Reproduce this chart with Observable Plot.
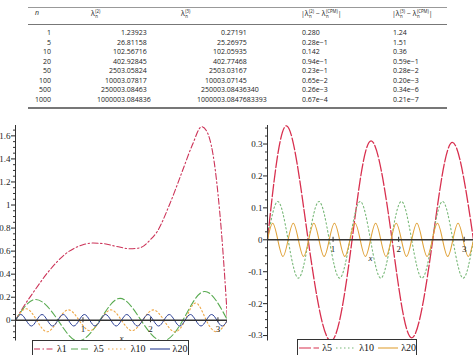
<!DOCTYPE html>
<html><head><meta charset="utf-8">
<script src="https://cdn.jsdelivr.net/npm/d3@7"></script>
<script src="https://cdn.jsdelivr.net/npm/@observablehq/plot@0.6"></script>
<style>
html,body{margin:0;padding:0;background:#fff;}
#root{position:relative;width:474px;height:355px;overflow:hidden;background:#fff;}
.abs{position:absolute;white-space:nowrap;}
.tbl{font-family:"Open Sans","Noto Sans",sans-serif;font-size:7px;line-height:8px;color:#222;}
.ss{display:inline-block;vertical-align:-2.5px;font-size:4.4px;line-height:5px;margin-left:0.4px;text-align:left;}
.ss span{display:block;height:5px;}
.hr{position:absolute;background:#777;}
.legend{position:absolute;border:1px solid #333;background:#fff;display:flex;align-items:center;font-family:"Liberation Serif",serif;font-size:10px;height:17px;color:#111;box-sizing:border-box;}
</style></head><body><div id="root"></div>
<script>
// ---------- table data ----------
const tableN = [1, 5, 10, 20, 50, 100, 500, 1000];
const lambda2 = ["1.23923","26.81158","102.56716","402.92845","2503.05824","10003.07817","250003.08463","1000003.084836"];
const lambda3 = ["0.27191","25.26975","102.05935","402.77468","2503.03167","10003.07145","250003.08436340","1000003.0847683393"];
const err2 = ["0.280","0.28e\u22121","0.142","0.94e\u22121","0.23e\u22121","0.65e\u22122","0.26e\u22123","0.67e\u22124"];
const err3 = ["1.24","1.51","0.36","0.59e\u22121","0.28e\u22122","0.20e\u22123","0.34e\u22126","0.21e\u22127"];

// ---------- chart data ----------
const xDomain = [0, Math.PI];
const xTicks = [1, 2, 3];
const xTickLabels = ["1", "2", "3"];
const xAxisLabel = "x";

const leftYTicks = [0, 0.2, 0.4, 0.6, 0.8, 1, 1.2, 1.4, 1.6];
const leftYLabels = ["0", "0.2", "0.4", "0.6", "0.8", "1", "1.2", "1.4", "1.6"];
const rightYTicks = [-0.3, -0.2, -0.1, 0, 0.1, 0.2, 0.3];
const rightYLabels = ["-0.3", "-0.2", "-0.1", "0", "0.1", "0.2", "0.3"];

const leftNames = ["\u03bb1", "\u03bb5", "\u03bb10", "\u03bb20"];
const rightNames = ["\u03bb5", "\u03bb10", "\u03bb20"];

const x1 = [0, 0.1, 0.25, 0.5, 0.75, 1.0, 1.15, 1.3, 1.5, 1.7, 1.85, 2.0, 2.1, 2.28, 2.47, 2.62, 2.76, 2.85, 2.95, 3.0, 3.05, 3.1, 3.1416];
const left1 = [0, 0.1, 0.23, 0.43, 0.58, 0.655, 0.67, 0.665, 0.64, 0.62, 0.63, 0.7, 0.77, 1.0, 1.29, 1.52, 1.68, 1.62, 1.35, 1.1, 0.78, 0.38, 0];

const x5L = [0, 0.3, 0.63, 0.93, 1.25, 1.55, 1.86, 2.17, 2.48, 2.8, 3.1416];
const left5 = [0, 0.18, 0, -0.18, 0, 0.19, 0, -0.18, 0, 0.25, 0];
const x5R = [0, 0.29, 0.62, 0.97, 1.29, 1.58, 1.9, 2.2, 2.52, 2.82, 3.1416];
const right5 = [0, 0.357, 0, -0.317, 0, 0.31, 0, -0.307, 0, 0.305, 0];

const x10 = [0, 0.157, 0.314, 0.471, 0.628, 0.785, 0.942, 1.1, 1.257, 1.414, 1.571, 1.728, 1.885, 2.042, 2.199, 2.356, 2.513, 2.67, 2.827, 2.985, 3.1416];
const left10 = [0, 0.1, 0, -0.1, 0, 0.09, 0, -0.09, 0, 0.09, 0, -0.09, 0, 0.09, 0, -0.1, 0, 0.15, 0, -0.1, 0];
const right10 = [0, 0.12, 0, -0.12, 0, 0.12, 0, -0.12, 0, 0.12, 0, -0.12, 0, 0.12, 0, -0.12, 0, 0.12, 0, -0.12, 0];

const x20 = [0, 0.079, 0.157, 0.236, 0.314, 0.393, 0.471, 0.55, 0.628, 0.707, 0.785, 0.864, 0.942, 1.021, 1.1, 1.178, 1.257, 1.335, 1.414, 1.492, 1.571, 1.649, 1.728, 1.806, 1.885, 1.963, 2.042, 2.121, 2.199, 2.278, 2.356, 2.435, 2.513, 2.592, 2.67, 2.749, 2.827, 2.906, 2.985, 3.063, 3.1416];
const left20 = [0, .05, 0, -.05, 0, .05, 0, -.05, 0, .05, 0, -.05, 0, .05, 0, -.05, 0, .05, 0, -.05, 0, .05, 0, -.05, 0, .05, 0, -.05, 0, .05, 0, -.05, 0, .05, 0, -.05, 0, .05, 0, -.05, 0];
const right20 = [0, .052, 0, -.052, 0, .052, 0, -.052, 0, .052, 0, -.052, 0, .052, 0, -.052, 0, .052, 0, -.052, 0, .052, 0, -.052, 0, .052, 0, -.052, 0, .052, 0, -.052, 0, .052, 0, -.052, 0, .052, 0, -.052, 0];

// ---------- table ----------
const root = document.getElementById("root");
const W = 474;
function put(html, {left, right, top, cls = "tbl", style = ""}) {
  const d = document.createElement("div");
  d.className = "abs " + cls;
  d.innerHTML = html;
  if (left != null) d.style.left = left + "px";
  if (right != null) { d.style.right = (W - right) + "px"; d.style.textAlign = "right"; }
  d.style.top = top + "px";
  if (style) d.style.cssText += style;
  root.appendChild(d);
  return d;
}
function hr(y, h, color) {
  const d = document.createElement("div");
  d.className = "hr";
  d.style.cssText = `left:28px;width:419px;top:${y}px;height:${h}px;background:${color};`;
  root.appendChild(d);
}
const lam = (sup) => `\u03bb<span class="ss"><span>${sup}</span><span>n</span></span>`;
const headerTop = 9;
hr(6.5, 1, "#999");
hr(23.5, 1.6, "#777");
hr(107, 1.6, "#777");
put("<i>n</i>", {left: 35, top: headerTop});
put(lam("(2)"), {left: 91, top: headerTop});
put(lam("(3)"), {left: 181, top: headerTop});
put(`|${lam("(2)")} \u2212 ${lam("(CPM)")}|`, {left: 301, top: headerTop});
put(`|${lam("(3)")} \u2212 ${lam("(CPM)")}|`, {left: 392, top: headerTop});

const dot2 = 125, dot3 = 225;
tableN.forEach((n, i) => {
  const top = 33 + i * 9.5 - 4;
  put(String(n), {right: 51, top});
  const [a2, b2] = lambda2[i].split(".");
  put(a2, {right: dot2, top});
  put("." + b2, {left: dot2, top});
  const [a3, b3] = lambda3[i].split(".");
  put(a3, {right: dot3, top});
  put("." + b3, {left: dot3, top});
  put(err2[i], {left: 302, top});
  put(err3[i], {left: 393, top});
});

// ---------- charts ----------
const toRows = (xs, ys) => xs.map((x, i) => ({x, y: ys[i]}));
function chart({width, marginLeft, marginRight, yDomain, yTicks, yLabels, minorStep, series}) {
  const height = 240, marginTop = 10, marginBottom = 14.5;
  const ppu = (height - marginTop - marginBottom) / (yDomain[1] - yDomain[0]);
  const yLab = new Map(yTicks.map((t, i) => [t, yLabels[i]]));
  const kMin = Math.ceil(yDomain[0] / minorStep), kMax = Math.floor(yDomain[1] / minorStep);
  const minor = d3.range(kMin, kMax + 1).map(k => +(k * minorStep).toFixed(3)).filter(v => !yTicks.includes(v));
  const marks = [];
  series.forEach(s => {
    marks.push(Plot.line(toRows(s.x, s.y), {x: "x", y: "y", stroke: s.color, strokeWidth: s.width || 1.1,
      strokeDasharray: s.dash || null, curve: s.curve || "natural", clip: true}));
  });
  marks.push(
    Plot.ruleY([0], {stroke: "#333", strokeWidth: 1.4}),
    Plot.ruleX([0], {y1: () => yDomain[0], y2: () => yDomain[1], stroke: "#333", strokeWidth: 1}),
    Plot.axisY({ticks: minor, tickSize: 2, tickFormat: () => "", label: null, color: "#333"}),
    Plot.axisY({ticks: yTicks, tickSize: 4, tickPadding: 1, tickFormat: d => yLab.get(d), label: null, color: "#222", fontSize: 9}),
    Plot.ruleX(xTicks, {x: d => d, y1: () => -2.5 / ppu, y2: () => 2.5 / ppu, stroke: "#333"}),
    Plot.text(xTicks, {x: d => d, y: () => 0, dy: 9, text: (d, i) => xTickLabels[i], fontSize: 9, fill: "#222"}),
    Plot.text([xAxisLabel], {x: () => d3.mean(xDomain), y: () => 0, dy: 18, text: d => d, fontStyle: "italic", fontSize: 9, fill: "#222"})
  );
  return Plot.plot({
    width, height, marginLeft, marginRight, marginTop, marginBottom,
    x: {domain: xDomain, axis: null},
    y: {domain: yDomain},
    style: {fontFamily: "'Liberation Serif','Times New Roman',serif", fontSize: "9px", background: "transparent", overflow: "visible"},
    marks
  });
}

const leftSeries = [
  {x: x1, y: left1, color: "#cc3358", dash: "6,2.5,1.5,2.5", curve: "monotone-x"},
  {x: x5L, y: left5, color: "#58aa50", dash: "7,3"},
  {x: x10, y: left10, color: "#eea848", dash: "1.5,2.5"},
  {x: x20, y: left20, color: "#2b3f94", width: 1}
];
const rightSeries = [
  {x: x5R, y: right5, color: "#d8304f", dash: "12,2.5", width: 1.3},
  {x: x10, y: right10, color: "#78b878", dash: "1.5,2.5"},
  {x: x20, y: right20, color: "#e0a23a"}
];

const left = chart({width: 235, marginLeft: 15, marginRight: 8, yDomain: [-0.18, 1.69],
  yTicks: leftYTicks, yLabels: leftYLabels, minorStep: 0.05, series: leftSeries});
left.style.position = "absolute"; left.style.left = "0px"; left.style.top = "115px";
root.appendChild(left);

const right = chart({width: 239, marginLeft: 32, marginRight: 1, yDomain: [-0.317, 0.358],
  yTicks: rightYTicks, yLabels: rightYLabels, minorStep: 0.025, series: rightSeries});
right.style.position = "absolute"; right.style.left = "235px"; right.style.top = "115px";
root.appendChild(right);

// ---------- legends ----------
function legend(series, names, {left, top, width, sampleW}) {
  const box = document.createElement("div");
  box.className = "legend";
  box.style.left = left + "px"; box.style.top = top + "px"; box.style.width = width + "px";
  box.innerHTML = series.map((s, i) =>
    `<svg width="${sampleW}" height="8" style="margin-left:${i === 0 ? 1 : 4}px;display:block"><line x1="0" y1="4" x2="${sampleW}" y2="4" stroke="${s.color}" stroke-width="1.1" ${s.dash ? `stroke-dasharray="${s.dash}"` : ""}/></svg><span style="margin-left:3px">${names[i]}</span>`
  ).join("");
  root.appendChild(box);
}
legend(leftSeries, leftNames, {left: 32, top: 340, width: 157, sampleW: 20});
legend(rightSeries, rightNames, {left: 297, top: 339, width: 120, sampleW: 21});
</script>
</body></html>
